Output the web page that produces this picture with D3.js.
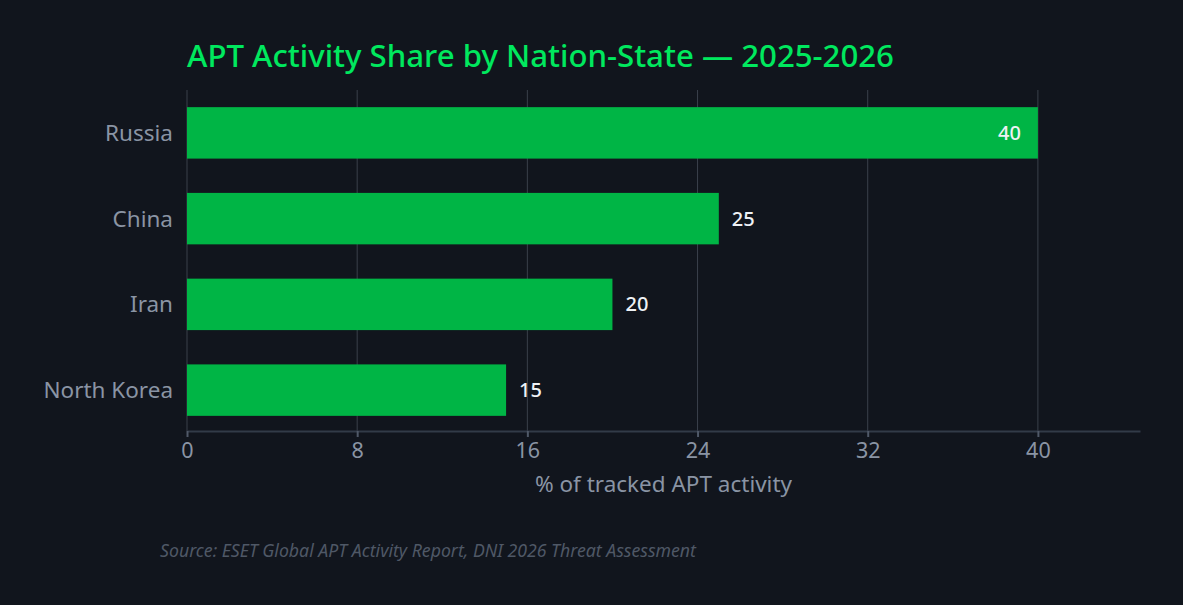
<!DOCTYPE html>
<html><head><meta charset="utf-8">
<script src="https://cdn.jsdelivr.net/npm/d3@7"></script>
<style>html,body{margin:0;padding:0;background:#11151d;}svg{display:block;}</style>
</head><body>
<svg id="c" width="1183" height="605"></svg>
<script>
const categories = ["Russia", "China", "Iran", "North Korea"];
const values = [40, 25, 20, 15];
const tickValues = [0, 8, 16, 24, 32, 40];
const titleText = "APT Activity Share by Nation-State — 2025-2026";
const xLabel = "% of tracked APT activity";
const sourceText = "Source: ESET Global APT Activity Report, DNI 2026 Threat Assessment";

const W = 1183, H = 605;
const m = {left: 187, right: 43, top: 90, bottom: 174};
const svg = d3.select("#c");
svg.append("rect").attr("width", W).attr("height", H).attr("fill", "#11151d");
const font = "'Noto Sans', 'Open Sans', sans-serif";

const x = d3.scaleLinear().domain([0, d3.max(values) * 1.12]).range([m.left, W - m.right]);
const y = d3.scaleBand().domain(categories).range([m.top, H - m.bottom + 2]).paddingInner(0.4).paddingOuter(0.2);

// grid
svg.append("g").selectAll("line").data(tickValues).join("line")
  .attr("x1", d => x(d)).attr("x2", d => x(d))
  .attr("y1", m.top).attr("y2", H - m.bottom)
  .attr("stroke", "#3a404b").attr("stroke-width", 1);

// bars
svg.append("g").selectAll("rect").data(values).join("rect")
  .attr("x", x(0)).attr("y", (d, i) => y(categories[i]))
  .attr("width", d => x(d) - x(0)).attr("height", y.bandwidth())
  .attr("fill", "#00b545");

// value labels
const maxV = d3.max(values);
svg.append("g").selectAll("text").data(values).join("text")
  .attr("x", d => d === maxV ? x(d) - 17 : x(d) + 13)
  .attr("y", (d, i) => y(categories[i]) + y.bandwidth() / 2)
  .attr("dy", "0.35em")
  .attr("text-anchor", d => d === maxV ? "end" : "start")
  .attr("fill", "#eef1f5").attr("font-family", font).attr("font-size", 20).attr("font-weight", 500)
  .text(d => d);

// y labels
svg.append("g").selectAll("text").data(categories).join("text")
  .attr("x", m.left - 14).attr("y", d => y(d) + y.bandwidth() / 2).attr("dy", "0.35em")
  .attr("text-anchor", "end").attr("fill", "#8a94a4").attr("font-family", font).attr("font-size", 22.5)
  .text(d => d);

// x axis
const xa = svg.append("g").attr("transform", `translate(0,${H - m.bottom})`)
  .call(d3.axisBottom(x).tickValues(tickValues).tickSize(6).tickPadding(6).tickSizeOuter(0));
xa.select(".domain").attr("stroke", "#323b48").attr("stroke-width", 2);
xa.selectAll(".tick line").attr("stroke", "#505968").attr("stroke-width", 2);
xa.selectAll(".tick text").attr("fill", "#8a94a4").attr("font-family", font).attr("font-size", 21.5);

svg.append("text").attr("x", (x.range()[0] + x.range()[1]) / 2).attr("y", 492)
  .attr("text-anchor", "middle").attr("fill", "#8a94a4").attr("font-family", font).attr("font-size", 22.5)
  .text(xLabel);

svg.append("text").attr("x", 187).attr("y", 67)
  .attr("fill", "#00e85e").attr("font-family", font).attr("font-size", 31.2).attr("font-weight", 500)
  .text(titleText);

svg.append("text").attr("x", 160).attr("y", 557)
  .attr("fill", "#4f5866").attr("font-family", font).attr("font-size", 17.7).attr("font-style", "italic")
  .text(sourceText);
</script>
</body></html>
